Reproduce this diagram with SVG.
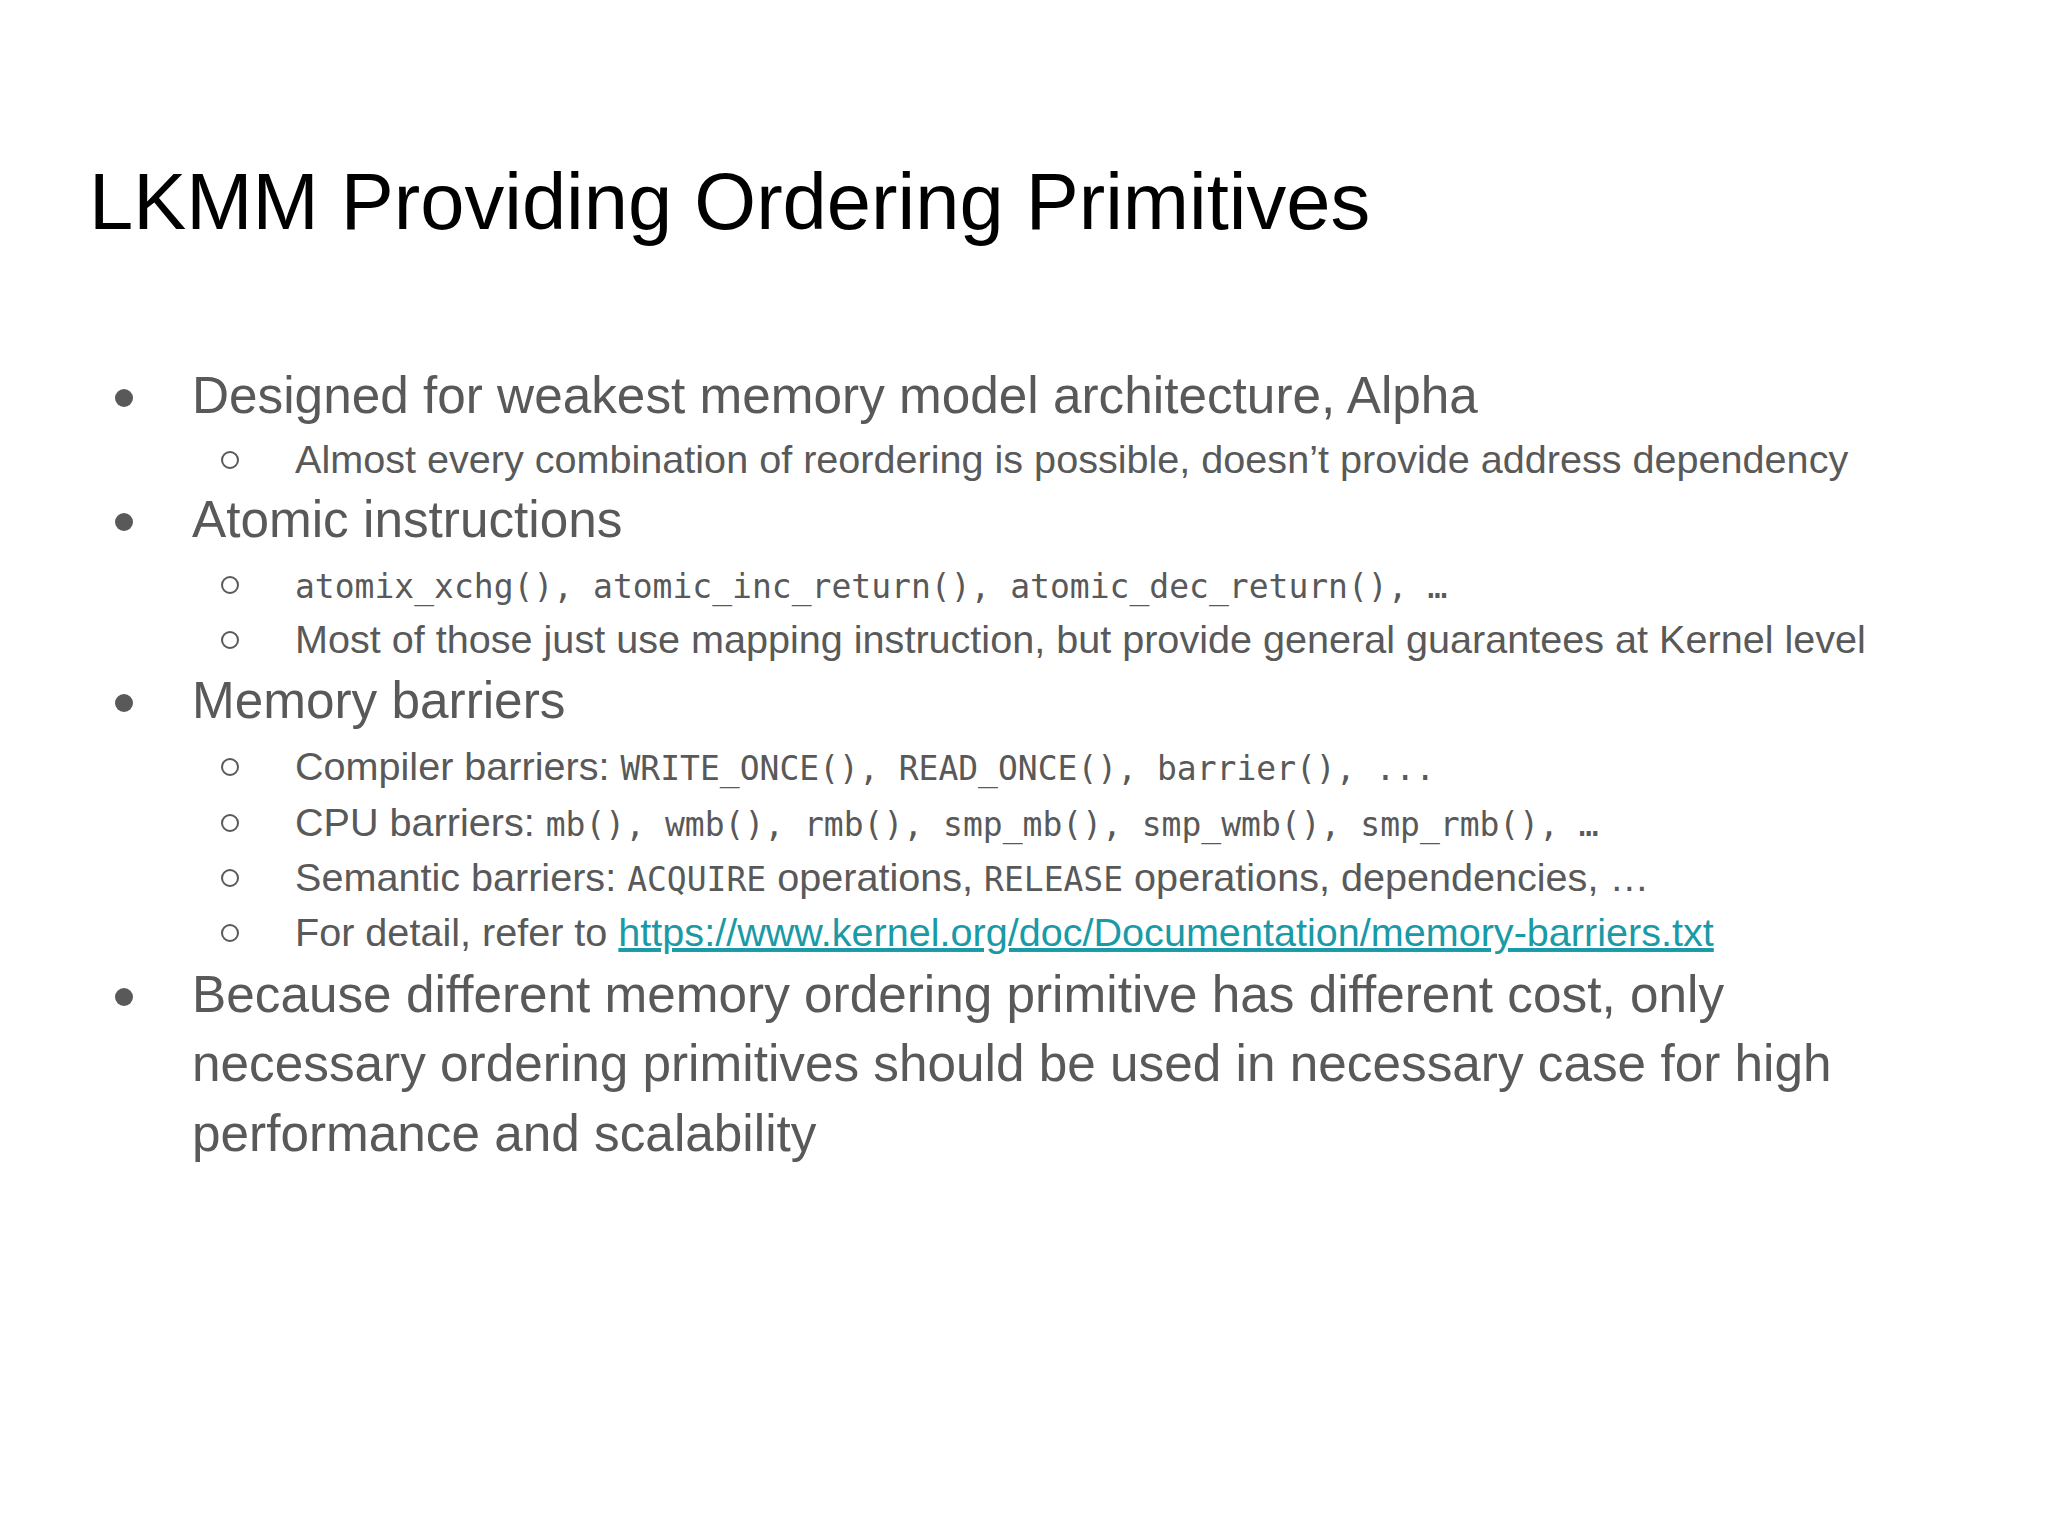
<svg xmlns="http://www.w3.org/2000/svg" width="2048" height="1536" viewBox="0 0 2048 1536">
<style>
.t{font-family:"Liberation Sans",Arial,sans-serif;fill:#595959}
.b{font-size:51.3px}
.s{font-size:39.6px}
.m{font-family:"DejaVu Sans Mono","Liberation Mono",monospace;font-size:33px}
.d{fill:#595959}
.c{fill:none;stroke:#595959;stroke-width:2}
</style>
<rect width="2048" height="1536" fill="#fff"/>
<text x="89" y="229" font-family="Liberation Sans,Arial,sans-serif" font-size="79.5" fill="#000">LKMM Providing Ordering Primitives</text>
<g id="b1">
<circle class="d" cx="124" cy="398" r="9"/>
<text class="t b" x="192" y="413">Designed for weakest memory model architecture, Alpha</text>
<circle class="c" cx="230" cy="460" r="8"/>
<text class="t s" x="295" y="473">Almost every combination of reordering is possible, doesn’t provide address dependency</text>
</g>
<g id="b2">
<circle class="d" cx="124" cy="522" r="9"/>
<text class="t b" x="192" y="537">Atomic instructions</text>
<circle class="c" cx="230" cy="585" r="8"/>
<text class="t s" x="295" y="598"><tspan class="m">atomix_xchg(), atomic_inc_return(), atomic_dec_return(), …</tspan></text>
<circle class="c" cx="230" cy="640" r="8"/>
<text class="t s" x="295" y="653">Most of those just use mapping instruction, but provide general guarantees at Kernel level</text>
</g>
<g id="b3">
<circle class="d" cx="124" cy="703" r="9"/>
<text class="t b" x="192" y="718">Memory barriers</text>
<circle class="c" cx="230" cy="767" r="8"/>
<text class="t s" x="295" y="780">Compiler barriers: <tspan class="m">WRITE_ONCE(), READ_ONCE(), barrier(), ...</tspan></text>
<circle class="c" cx="230" cy="823" r="8"/>
<text class="t s" x="295" y="836">CPU barriers: <tspan class="m">mb(), wmb(), rmb(), smp_mb(), smp_wmb(), smp_rmb(), …</tspan></text>
<circle class="c" cx="230" cy="878" r="8"/>
<text class="t s" x="295" y="891">Semantic barriers: <tspan class="m">ACQUIRE</tspan> operations, <tspan class="m">RELEASE</tspan> operations, dependencies, …</text>
<circle class="c" cx="230" cy="933" r="8"/>
<text class="t s" x="295" y="946">For detail, refer to <tspan fill="#1a9aa6" text-decoration="underline">https://www.kernel.org/doc/Documentation/memory-barriers.txt</tspan></text>
</g>
<g id="b4">
<circle class="d" cx="124" cy="997" r="9"/>
<text class="t b" x="192" y="1012">Because different memory ordering primitive has different cost, only</text>
<text class="t b" x="192" y="1081">necessary ordering primitives should be used in necessary case for high</text>
<text class="t b" x="192" y="1151">performance and scalability</text>
</g>
</svg>
